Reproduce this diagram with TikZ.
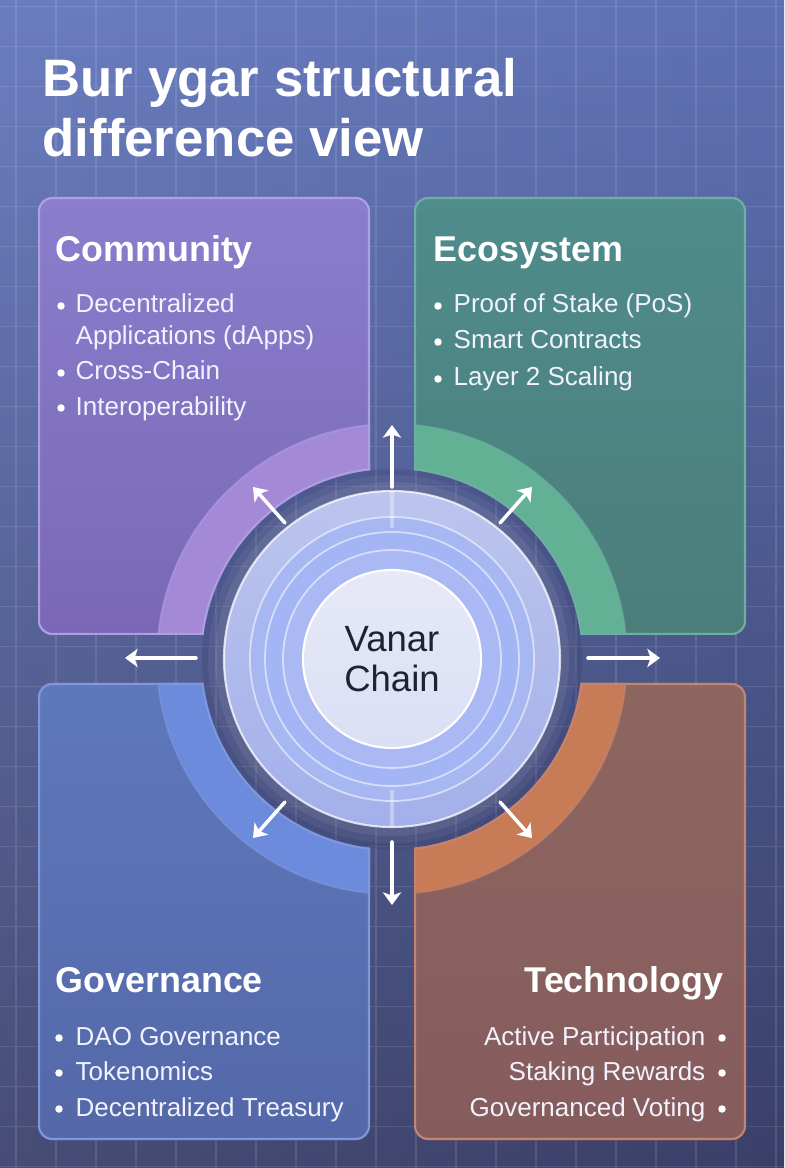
\documentclass[tikz,border=0pt]{standalone}
\usepackage{fontspec}
\setmainfont{Liberation Sans}
\usepackage{tikz}
\usetikzlibrary{arrows.meta}
\usetikzlibrary{positioning}
\usetikzlibrary{calc}

\definecolor{bgtop}{HTML}{6377BD}
\definecolor{bgbot}{HTML}{3D436E}
\definecolor{commtop}{HTML}{8A7ECC}
\definecolor{commbot}{HTML}{7A68B6}
\definecolor{commband}{HTML}{A48AD6}
\definecolor{commline}{HTML}{AC9FE2}
\definecolor{ecotop}{HTML}{4F8C8C}
\definecolor{ecobot}{HTML}{4A7E7A}
\definecolor{ecoband}{HTML}{62B194}
\definecolor{ecoline}{HTML}{6FAEA4}
\definecolor{govtop}{HTML}{5F78BC}
\definecolor{govbot}{HTML}{5468A8}
\definecolor{govband}{HTML}{6C8BDC}
\definecolor{govline}{HTML}{7F97DC}
\definecolor{techtop}{HTML}{8E6660}
\definecolor{techbot}{HTML}{855C5C}
\definecolor{techband}{HTML}{C77B57}
\definecolor{techline}{HTML}{C48472}
\definecolor{hubshadow}{HTML}{2F3562}
\definecolor{ringa}{HTML}{BCC5EE}
\definecolor{ringb}{HTML}{A3B0EA}
\definecolor{ringc}{HTML}{A7B7F1}
\definecolor{ringd}{HTML}{A3B5F5}
\definecolor{ringe}{HTML}{AAB9F3}
\definecolor{hubtop}{HTML}{E7E9F7}
\definecolor{hubbot}{HTML}{DADFF5}
\definecolor{hubtext}{HTML}{1E2234}

\begin{document}
\begin{tikzpicture}
\tikzstyle{gridline}=[white,opacity=0.11,line width=0.4pt]
\tikzstyle{title text}=[anchor=base west,inner sep=0,text=white,font=\fontsize{15}{18}\selectfont\bfseries]
\tikzstyle{heading}=[anchor=base west,inner sep=0,text=white,font=\fontsize{10.2}{12}\selectfont\bfseries]
\tikzstyle{rheading}=[anchor=base east,inner sep=0,text=white,font=\fontsize{10.2}{12}\selectfont\bfseries]
\tikzset{
  item text/.style = {anchor=base west,inner sep=0,text=white!95!blue,font=\fontsize{7.4}{9}\selectfont},
  ritem text/.style = {anchor=base east,inner sep=0,text=white!95!blue,font=\fontsize{7.4}{9}\selectfont},
  item dot/.style = {circle,fill=white,inner sep=0,minimum size=0.075cm},
  ring line/.style = {white,opacity=0.55,line width=0.5pt},
  hub/.style = {circle,draw=white,line width=0.6pt,top color=hubtop,bottom color=hubbot,
                minimum size=1.78cm,inner sep=0,align=center,text=hubtext,
                font=\fontsize{10.4}{11.4}\selectfont},
  spoke/.style = {draw=white,line width=1pt,line cap=round,-{Stealth[length=3.6pt,width=5.2pt,inset=0.9pt]}},
  faint spoke/.style = {white,opacity=0.35,line width=1pt}
}

\useasboundingbox (0,0) rectangle (7.84,11.68);
\shade[top color=bgtop,bottom color=bgbot] (0,0) rectangle (7.84,11.68);
\shade[left color=white,right color=black,opacity=0.05] (0,0) rectangle (7.84,11.68);
\begin{scope}[xshift=0.16cm,yshift=0.013cm]
  \draw[gridline,step=0.4] (-0.4,-0.4) grid (7.8,11.8);
\end{scope}

\coordinate (c) at (3.92,5.09);

%%%%%%%%%%%%%%%%%%%%%%%%%% panels
\begin{scope}
  \clip[rounded corners=0.14cm] (0.38,5.33) rectangle (3.70,9.71);
  \clip (0,0) -- (0,11.68) -- (7.84,11.68) -- (7.84,0) -- cycle (c) circle (1.9);
  \shade[top color=commtop,bottom color=commbot] (0.38,5.33) rectangle (3.70,9.71);
  \fill[commband] (c) circle (2.35);
  \draw[commline,line width=1.2pt,rounded corners=0.14cm] (0.38,5.33) rectangle (3.70,9.71);
  \draw[commline,line width=1.2pt] (c) circle (1.9);
  \draw[commline,opacity=0.6,line width=0.5pt] (c) circle (2.35);
\end{scope}
\begin{scope}
  \clip[rounded corners=0.14cm] (4.14,5.33) rectangle (7.46,9.71);
  \clip (0,0) -- (0,11.68) -- (7.84,11.68) -- (7.84,0) -- cycle (c) circle (1.9);
  \shade[top color=ecotop,bottom color=ecobot] (4.14,5.33) rectangle (7.46,9.71);
  \fill[ecoband] (c) circle (2.35);
  \draw[ecoline,line width=1.2pt,rounded corners=0.14cm] (4.14,5.33) rectangle (7.46,9.71);
  \draw[ecoline,line width=1.2pt] (c) circle (1.9);
  \draw[ecoline,opacity=0.6,line width=0.5pt] (c) circle (2.35);
\end{scope}
\begin{scope}
  \clip[rounded corners=0.14cm] (0.38,0.28) rectangle (3.70,4.85);
  \clip (0,0) -- (0,11.68) -- (7.84,11.68) -- (7.84,0) -- cycle (c) circle (1.9);
  \shade[top color=govtop,bottom color=govbot] (0.38,0.28) rectangle (3.70,4.85);
  \fill[govband] (c) circle (2.35);
  \draw[govline,line width=1.2pt,rounded corners=0.14cm] (0.38,0.28) rectangle (3.70,4.85);
  \draw[govline,line width=1.2pt] (c) circle (1.9);
  \draw[govline,opacity=0.6,line width=0.5pt] (c) circle (2.35);
\end{scope}
\begin{scope}
  \clip[rounded corners=0.14cm] (4.14,0.28) rectangle (7.46,4.85);
  \clip (0,0) -- (0,11.68) -- (7.84,11.68) -- (7.84,0) -- cycle (c) circle (1.9);
  \shade[top color=techtop,bottom color=techbot] (4.14,0.28) rectangle (7.46,4.85);
  \fill[techband] (c) circle (2.35);
  \draw[techline,line width=1.2pt,rounded corners=0.14cm] (4.14,0.28) rectangle (7.46,4.85);
  \draw[techline,line width=1.2pt] (c) circle (1.9);
  \draw[techline,opacity=0.6,line width=0.5pt] (c) circle (2.35);
\end{scope}

%%%%%%%%%%%%%%%%%%%%%%%%%% hub
\fill[hubshadow,opacity=0.22] (c) circle (1.9);
\fill[white,opacity=0.05] (c) circle (1.84);
\fill[white,opacity=0.07] (c) circle (1.77);
\shade[top color=ringa,bottom color=ringb] (c) circle (1.68);
\draw[white,opacity=0.75,line width=0.6pt] (c) circle (1.68);
\fill[ringc] (c) circle (1.42);
\draw[ring line] (c) circle (1.42);
\fill[ringd] (c) circle (1.27);
\draw[ring line] (c) circle (1.27);
\fill[ringe] (c) circle (1.09);
\draw[ring line] (c) circle (1.09);
\node[hub] (hub) at (c) {Vanar\\Chain};

\coordinate (fn0) at (3.92,6.77);
\coordinate (fn1) at (3.92,6.40);
\coordinate (fs0) at (3.92,3.78);
\coordinate (fs1) at (3.92,3.41);
\draw[faint spoke] (fn0) -- (fn1);
\draw[faint spoke] (fs0) -- (fs1);

%%%%%%%%%%%%%%%%%%%%%%%%%% arrows
\coordinate (n0) at (3.92,6.81);   \coordinate (n1) at (3.92,7.43);
\coordinate (nw0) at (2.85,6.45);  \coordinate (nw1) at (2.53,6.81);
\coordinate (ne0) at (5.00,6.45);  \coordinate (ne1) at (5.32,6.81);
\coordinate (w0) at (1.96,5.10);   \coordinate (w1) at (1.25,5.10);
\coordinate (e0) at (5.88,5.10);   \coordinate (e1) at (6.60,5.10);
\coordinate (sw0) at (2.85,3.66);  \coordinate (sw1) at (2.53,3.30);
\coordinate (se0) at (5.00,3.66);  \coordinate (se1) at (5.32,3.30);
\coordinate (s0) at (3.92,3.26);   \coordinate (s1) at (3.92,2.63);
\draw[spoke] (n0) -- (n1);
\draw[spoke] (nw0) -- (nw1);
\draw[spoke] (ne0) -- (ne1);
\draw[spoke] (w0) -- (w1);
\draw[spoke] (e0) -- (e1);
\draw[spoke] (sw0) -- (sw1);
\draw[spoke] (se0) -- (se1);
\draw[spoke] (s0) -- (s1);

%%%%%%%%%%%%%%%%%%%%%%%%%% texts
\node[title text] (title1) at (0.42,10.71) {Bur ygar structural};
\node[title text] (title2) at (0.42,10.11) {difference view};

\node[heading] (comm) at (0.55,9.06) {Community};
\node[item text] (comm1) at (0.75,8.55) {Decentralized};
\node[item text] (comm1b) at (0.75,8.23) {Applications (dApps)};
\node[item text] (comm2) at (0.75,7.88) {Cross-Chain};
\node[item text] (comm3) at (0.75,7.53) {Interoperability};
\node[item dot] at (0.61,8.62) {};
\node[item dot] at (0.61,7.95) {};
\node[item dot] at (0.61,7.60) {};

\node[heading] (eco) at (4.33,9.06) {Ecosystem};
\node[item text] (eco1) at (4.53,8.55) {Proof of Stake (PoS)};
\node[item text] (eco2) at (4.53,8.19) {Smart Contracts};
\node[item text] (eco3) at (4.53,7.82) {Layer 2 Scaling};
\node[item dot] at (4.38,8.62) {};
\node[item dot] at (4.38,8.26) {};
\node[item dot] at (4.38,7.89) {};

\node[heading] (gov) at (0.55,1.75) {Governance};
\node[item text] (gov1) at (0.75,1.23) {DAO Governance};
\node[item text] (gov2) at (0.75,0.88) {Tokenomics};
\node[item text] (gov3) at (0.75,0.52) {Decentralized Treasury};
\node[item dot] at (0.59,1.30) {};
\node[item dot] at (0.59,0.95) {};
\node[item dot] at (0.59,0.59) {};

\node[rheading] (tech) at (7.24,1.75) {Technology};
\node[ritem text] (tech1) at (7.06,1.23) {Active Participation};
\node[ritem text] (tech2) at (7.06,0.88) {Staking Rewards};
\node[ritem text] (tech3) at (7.06,0.52) {Governanced Voting};
\node[item dot] at (7.22,1.30) {};
\node[item dot] at (7.22,0.95) {};
\node[item dot] at (7.22,0.59) {};
\end{tikzpicture}
\end{document}
